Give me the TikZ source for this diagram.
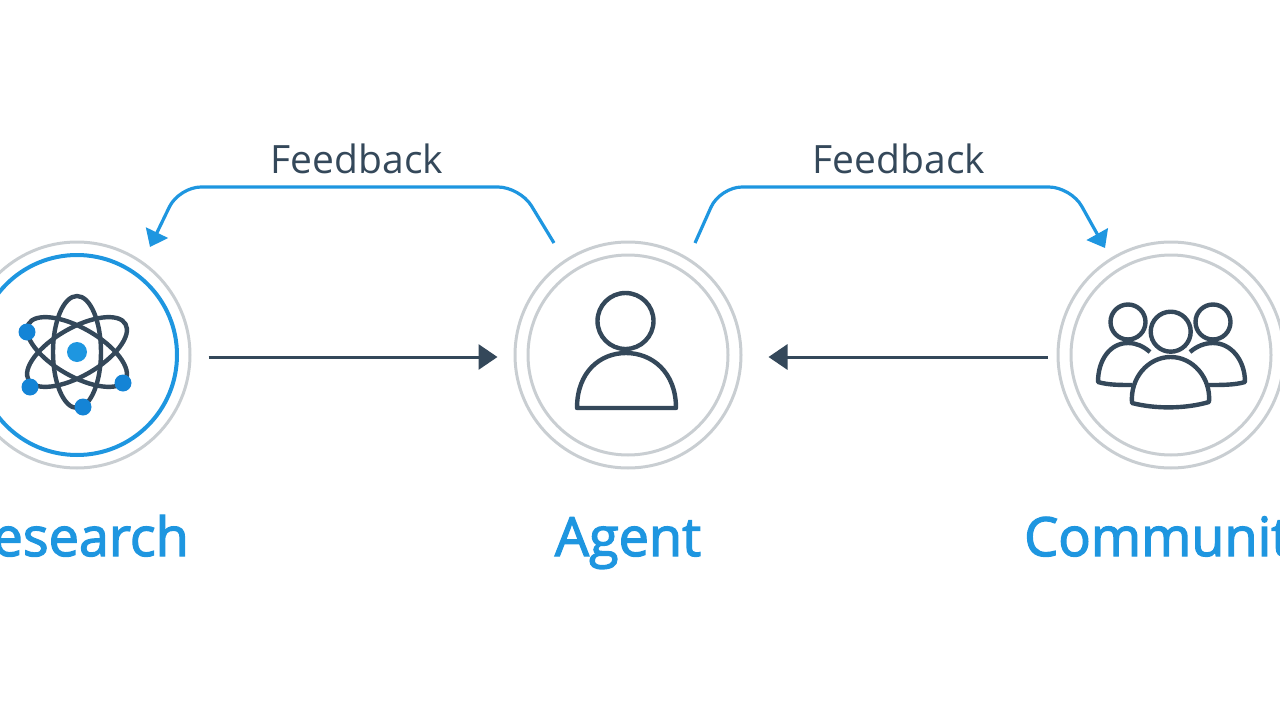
\documentclass[tikz,border=0pt]{standalone}
\usepackage{fontspec}
\setmainfont{Open Sans}
\newfontfamily\capfont[FakeBold=2.4]{Open Sans}
\usetikzlibrary{arrows.meta}
\definecolor{skyblue}{HTML}{1E96E0}
\definecolor{deepblue}{HTML}{1484D6}
\definecolor{slate}{HTML}{34485A}
\definecolor{ringgray}{HTML}{C9CED2}
\tikzstyle{ring} = [circle,draw=ringgray,line width=3pt,minimum size=226pt,inner sep=0pt]
\tikzstyle{innerring} = [circle,draw=ringgray,line width=3pt,minimum size=200pt,inner sep=0pt]
\tikzstyle{caption} = [align=center,text=skyblue,inner sep=0pt,font=\fontsize{54}{58}\capfont]
\tikzstyle{fblabel} = [align=center,text=slate,font=\fontsize{39}{43}\selectfont]
\tikzstyle{link} = [draw=slate,line width=3pt,-{Triangle[length=19pt,width=25pt]}]
\tikzstyle{fb} = [draw=skyblue,line width=3.2pt,rounded corners=22pt,-{Triangle[length=16pt,width=24pt]}]
\tikzstyle{icon} = [draw=slate,line width=4.4pt,line join=round]
\tikzstyle{dot} = [circle,fill=deepblue,inner sep=0pt,minimum size=17pt]
\begin{document}
\begin{tikzpicture}[x=1pt,y=-1pt,node distance=551pt]
	\useasboundingbox (0,0) rectangle (1280,720);
	\node (research) [ring] at (77,355) {};
	\node (agent) [ring,right of=research] {};
	\node (community) [ring,right of=agent,node distance=543pt] {};
	\node (researchin) [innerring,draw=skyblue,line width=4pt] at (research) {};
	\node (agentin) [innerring] at (agent) {};
	\node (communityin) [innerring] at (community) {};
	\node (researchname) [caption,anchor=base east] at (189,556) {Research};
	\node (agentname) [caption,anchor=base] at (628,556) {Agent};
	\node (communityname) [caption,anchor=base west] at (1024,556) {Community};
	\node (fbleft) [fblabel] at (357,159) {Feedback};
	\node (fbright) [fblabel] at (899,159) {Feedback};
	\coordinate (agentl) at (554,243);
	\coordinate (agentr) at (695,243);
	\coordinate (researchtop) at (150,247);
	\coordinate (communitytop) at (1105,248);
	\draw [link,shorten <=17pt,shorten >=16pt] ([yshift=-2pt]research.east) -- ([yshift=-2pt]agent.west);
	\draw [link,shorten <=9pt,shorten >=26pt] ([yshift=-2pt]community.west) -- ([yshift=-2pt]agent.east);
	\draw [fb] (agentl) -- (520,187) -- (179,187) -- (researchtop);
	\draw [fb] (agentr) -- (720,187) -- (1071,187) -- (communitytop);
	% atom
	\draw [icon] (77,352) ellipse [x radius=24,y radius=56];
	\draw [icon,rotate around={60:(77,352)}] (77,352) ellipse [x radius=24,y radius=56];
	\draw [icon,rotate around={-60:(77,352)}] (77,352) ellipse [x radius=24,y radius=56];
	\node (nucleus) [dot,fill=skyblue,minimum size=20pt] at (77,352) {};
	\node (e1) [dot] at (27,332) {};
	\node (e2) [dot] at (30,387) {};
	\node (e3) [dot] at (123,383) {};
	\node (e4) [dot] at (83,407) {};
	% person
	\draw [icon] (625.5,321) circle (28);
	\draw [icon] (577,408) .. controls (577,372) and (600,353) .. (626,353) .. controls (652,353) and (676,372) .. (676,408) -- cycle;
	% group
	\draw [icon] (1128,322) circle (17.5);
	\draw [icon] (1213,322) circle (17.5);
	\draw [icon] (1170.7,331.7) circle (20);
	\draw [icon] (1150,352) .. controls (1143,346) and (1136,343) .. (1128,343) .. controls (1110,343) and (1098,360) .. (1098,382) .. controls (1108,385) and (1120,385) .. (1132,385);
	\draw [icon] (1190,352) .. controls (1197,346) and (1205,343) .. (1213,343) .. controls (1231,343) and (1245,360) .. (1245,382) .. controls (1235,385) and (1222,385) .. (1209,385);
	\draw [icon] (1132,403) .. controls (1130,378) and (1148,357) .. (1170.7,357) .. controls (1193,357) and (1211,378) .. (1209,402) .. controls (1185,409) and (1155,409) .. (1132,403) -- cycle;
\end{tikzpicture}
\end{document}
